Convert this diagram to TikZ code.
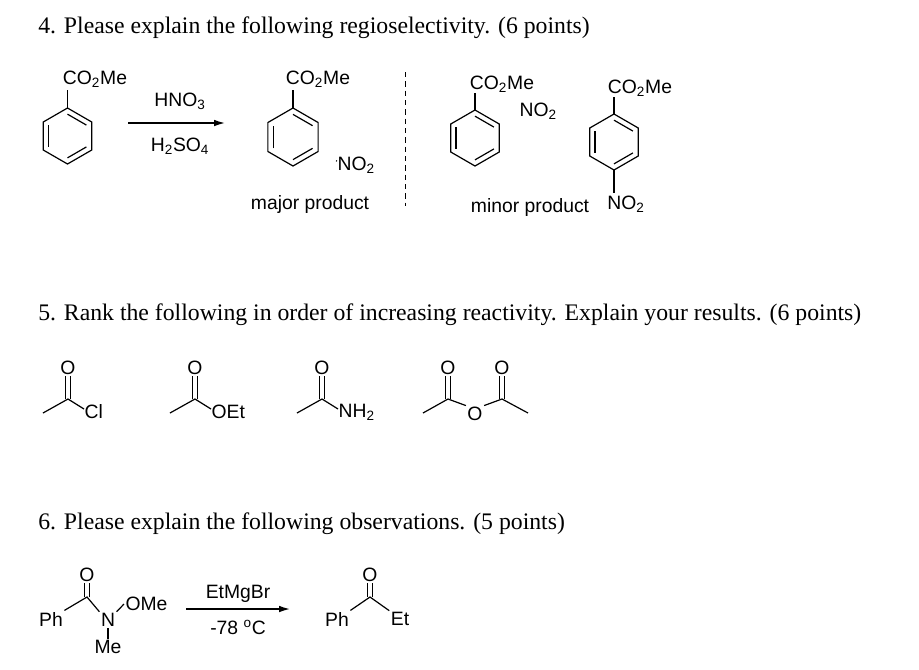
\documentclass[tikz,border=0pt]{standalone}
\usepackage{fontspec}
\setmainfont{Liberation Serif}
\newfontfamily\chemf{Liberation Sans}
\usetikzlibrary{calc,arrows.meta}
\newcommand{\sbt}{\textsubscript{2}}
\newcommand{\benz}[4]{%
  \coordinate (#1c) at (#2,#3);
  \foreach \i in {0,...,5}{\coordinate (#1\i) at ($(#1c)+({90-60*\i}:#4*0.75pt)$);}
  \draw[bond] (#10)--(#11)--(#12)--(#13)--(#14)--(#15)--cycle;
  \draw[bond] ($(#1c)!0.78!(#10)$)--($(#1c)!0.78!(#11)$);
  \draw[bond] ($(#1c)!0.78!(#12)$)--($(#1c)!0.78!(#13)$);
  \draw[bond] ($(#1c)!0.78!(#14)$)--($(#1c)!0.78!(#15)$);
}
\begin{document}
\begin{tikzpicture}[x=0.75pt,y=-0.75pt,
  bond/.style={line width=0.9pt},
  atom/.style={font=\chemf\fontsize{14.5}{16}\selectfont,inner sep=1pt},
  q/.style={font=\fontsize{17.8}{20}\selectfont,anchor=west,inner sep=0pt},
  rxn/.style={line width=1.6pt,-{Latex[length=9pt,width=5pt]}}]
\useasboundingbox[fill=white] (0,0) rectangle (919,669);
% question 4
\node[q] (q4) at (38,28) {4. Please explain the following regioselectivity. (6 points)};
\benz{a}{67.5}{136}{28}
\node[atom] (a1) at (95,79) {CO\sbt Me};
\draw[bond] (a0)--(67.5,90);
\node[atom] (h1) at (180,101) {HNO\textsubscript{3}};
\node[atom] (h2) at (180,146) {H\sbt SO\textsubscript{4}};
\coordinate (r1s) at (128,123); \coordinate (r1e) at (226,123);
\draw[rxn] (r1s)--(r1e);
\benz{b}{293}{137}{29}
\node[atom] (b1) at (318,79) {CO\sbt Me};
\draw[bond] (b0)--(293,90);
\node[atom,anchor=west] (b2) at (336,165) {NO\sbt};
\draw[bond] (b2)--(337,161);
\draw[bond] (b2)--(b2);
\node[atom] (mj) at (310,204) {major product};
\coordinate (d1) at (405,72); \coordinate (d2) at (405,206);
\draw[line width=0.6pt,dash pattern=on 4pt off 3pt] (d1)--(d2);
\benz{c}{475}{138}{28}
\node[atom] (c1) at (502,84) {CO\sbt Me};
\draw[bond] (c0)--(475,93);
\node[atom,anchor=west] (c2) at (518,111) {NO\sbt};
\draw[bond] (c1)--(c1);
\benz{d}{614}{142}{28}
\node[atom] (d1t) at (640,88) {CO\sbt Me};
\draw[bond] (d0)--(614,97);
\node[atom] (d2t) at (626,204) {NO\sbt};
\draw[bond] (d3)--(614,193);
\node[atom] (mn) at (530,207) {minor product};
% ring substituent bonds
\draw[bond] (b2)--(b2);
\draw[bond] (b2.west)--(b2.west);
\draw[bond] (b2) (b2);
\draw[bond] (b2);
\draw[bond] (b2.north west)--(b2.north west);
\draw[bond] (b2);
% question 5
\node[q] (q5) at (38,315) {5. Rank the following in order of increasing reactivity. Explain your results. (6 points)};
\foreach \n/\x/\lab in {m/43/Cl, e/170/OEt, n/297/NH\sbt}{
  \coordinate (\n a) at (\x,413);
  \coordinate (\n c) at (\x+25,399);
  \node[atom] (\n o) at (\x+25,368) {O};
  \node[atom,anchor=west] (\n x) at (\x+40,412) {\lab};
  \draw[bond] (\n a)--(\n c)--($(\n x.west)+(1,-3)$);
  \draw[bond] ($(\n c)+(-2.5,0)$)--($(\n o.south)+(-2.5,0)$);
  \draw[bond] ($(\n c)+(2.5,0)$)--($(\n o.south)+(2.5,0)$);
}
\coordinate (ya) at (423,413); \coordinate (yc) at (448,399);
\node[atom] (yo) at (448,368) {O};
\node[atom] (yb) at (475,414) {O};
\coordinate (yd) at (502,399); \coordinate (ye) at (528,413);
\node[atom] (yp) at (502,368) {O};
\draw[bond] (ya)--(yc)--(yb.north west);
\draw[bond] (yb.north east)--(yd)--(ye);
\foreach \c/\o in {yc/yo, yd/yp}{
  \draw[bond] ($(\c)+(-2.5,0)$)--($(\o.south)+(-2.5,0)$);
  \draw[bond] ($(\c)+(2.5,0)$)--($(\o.south)+(2.5,0)$);
}
% question 6
\node[q] (q6) at (38,524) {6. Please explain the following observations. (5 points)};
\node[atom] (ph1) at (51,619) {Ph};
\coordinate (k1) at (87,597);
\node[atom] (ko) at (87,575) {O};
\node[atom] (kn) at (108,620) {N};
\node[atom,anchor=west] (kome) at (124,604) {OMe};
\node[atom] (kme) at (108,647) {Me};
\draw[bond] (ph1.north east)--(k1)--(kn.north west);
\draw[bond] ($(k1)+(-2.5,0)$)--($(ko.south)+(-2.5,0)$);
\draw[bond] ($(k1)+(2.5,0)$)--($(ko.south)+(2.5,0)$);
\draw[bond] (kn.north east)--(kome.west);
\draw[bond] (kn.south)--(kme.north);
\node[atom] (em) at (238,594) {EtMgBr};
\node[atom] (tc) at (238,627) {-78 \textsuperscript{o}C};
\coordinate (r2s) at (186,609); \coordinate (r2e) at (291,609);
\draw[rxn] (r2s)--(r2e);
\node[atom] (ph2) at (337,619) {Ph};
\coordinate (p1) at (370,597);
\node[atom] (po) at (370,575) {O};
\node[atom] (pet) at (400,619) {Et};
\draw[bond] (ph2.north east)--(p1)--(pet.north west);
\draw[bond] ($(p1)+(-2.5,0)$)--($(po.south)+(-2.5,0)$);
\draw[bond] ($(p1)+(2.5,0)$)--($(po.south)+(2.5,0)$);
% nitro bonds on rings b and c
\draw[bond] (b2) ++(0,0);
\draw[bond] (b2.west) ++(0,0);
\draw[bond] (b2.west);
\draw[bond] (b2);
\draw[bond] (b2);
\draw[bond] (b2.north west);
\draw[bond] (b2.north west);
\draw[bond] (b2);
\draw[bond] (b2);
\draw[bond] (b2);
\draw[bond] (b2);
\draw[bond] (b2);
\draw[bond] (b2);
\draw[bond] (b2);
\draw[bond] (b2);
\draw[bond] (b2);
\draw[bond] (b2);
\draw[bond] (b2);
\draw[bond] (b2);
\draw[bond] (b2);
\draw[bond] (b2);
\draw[bond] (b2);
\draw[bond] (b2);
\draw[bond] (b2);
\draw[bond] (b2);
\draw[bond] (b2);
\draw[bond] (b2);
\draw[bond] (b2);
\draw[bond] (b2);
\draw[bond] (b2);
\draw[bond] (b2);
\draw[bond] (b2);
\draw[bond] (b2);
\draw[bond] (b2);
\draw[bond] (b2);
\draw[bond] (b2);
\draw[bond] (b2);
\draw[bond] (b2);
\draw[bond] (b2);
\draw[bond] (b2);
\draw[bond] (b2);
\draw[bond] (b2);
\draw[bond] (b2);
\draw[bond] (b2);
\draw[bond] (b2);
\draw[bond] (b2);
\draw[bond] (b2);
\draw[bond] (b2);
\draw[bond] (b2);
\draw[bond] (b2);
\draw[bond] (b2);
\draw[bond] (b2);
\draw[bond] (b2);
\draw[bond] (b2);
\draw[bond] (b2);
\draw[bond] (b2);
\draw[bond] (b2);
\draw[bond] (b2);
\draw[bond] (b2);
\draw[bond] (b2);
\draw[bond] (b2);
\draw[bond] (b2);
\draw[bond] (b2);
\draw[bond] (b2);
\draw[bond] (b2);
\draw[bond] (b2);
\draw[bond] (b2);
\draw[bond] (b2);
\draw[bond] (b2);
\draw[bond] (b2);
\draw[bond] (b2);
\draw[bond] (b2);
\draw[bond] (b2);
\draw[bond] (b2);
\draw[bond] (b2);
\draw[bond] (b2);
\draw[bond] (b2);
\draw[bond] (b2);
\draw[bond] (b2);
\draw[bond] (b2);
\draw[bond] (b2);
\draw[bond] (b2);
\draw[bond] (b2);
\draw[bond] (b2);
\draw[bond] (b2);
\draw[bond] (b2);
\draw[bond] (b2);
\draw[bond] (b2);
\draw[bond] (b2);
\draw[bond] (b2);
\draw[bond] (b2);
\end{tikzpicture}
\end{document}
